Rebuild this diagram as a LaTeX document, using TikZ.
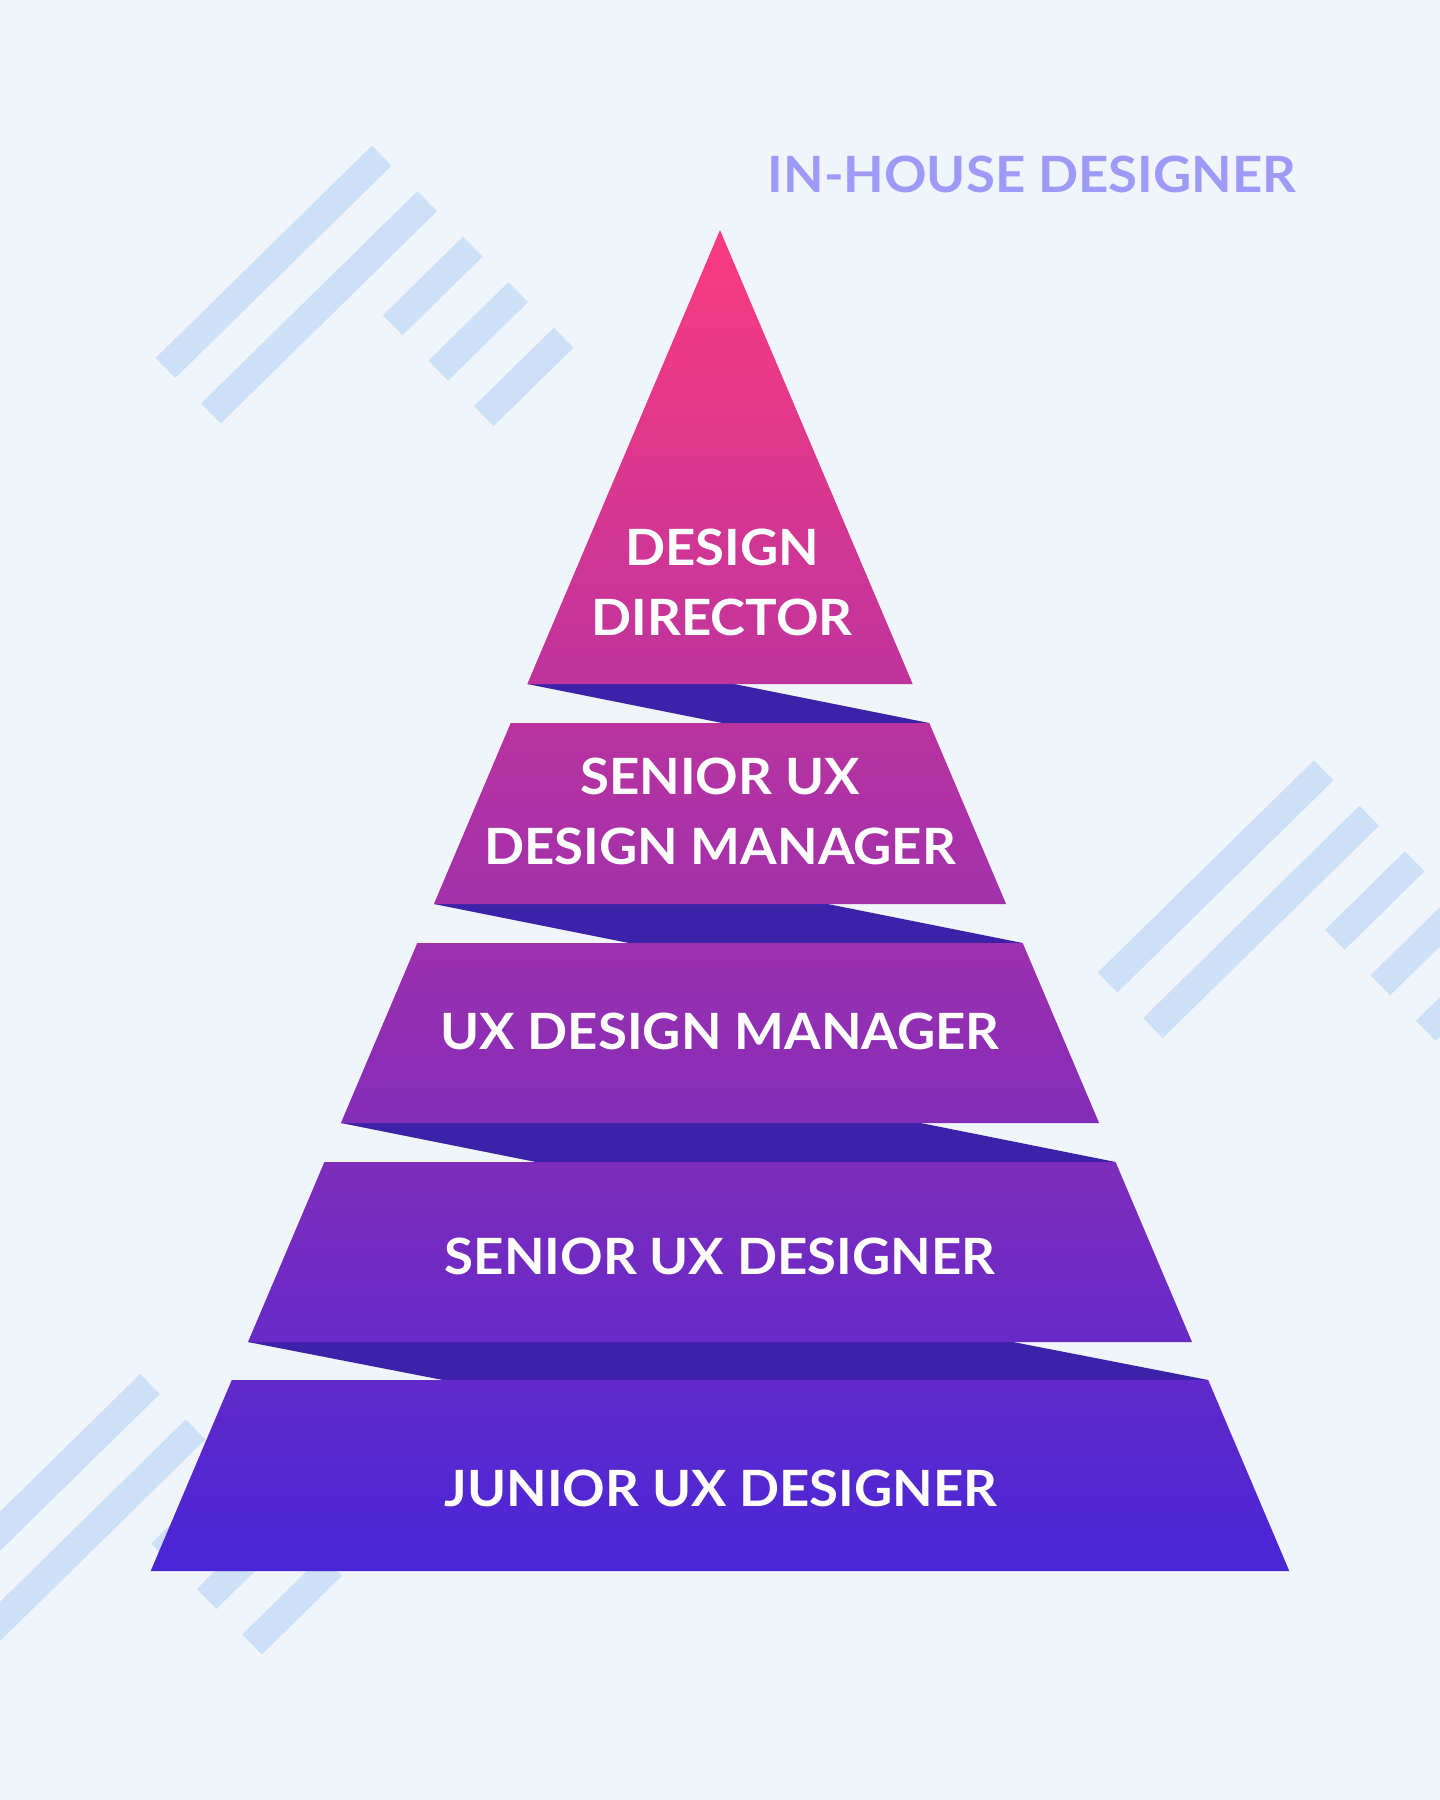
\documentclass[tikz,border=0pt]{standalone}
\usepackage{fontspec}
\setmainfont{Lato}
\newfontfamily\tierfont{Lato}[FakeStretch=1.055]
\definecolor{bgpaper}{HTML}{F0F5FC}
\definecolor{stripeblue}{HTML}{CCE0F8}
\definecolor{ribbonblue}{HTML}{3C22A8}
\definecolor{pyrpink}{HTML}{FB3B7F}
\definecolor{pyrindigo}{HTML}{4826D6}
\definecolor{titlelilac}{HTML}{9E9AF8}
\newcommand{\pyrslope}{0.4245}

\begin{document}
\begin{tikzpicture}[x=1pt,y=-1pt,
  tier/.style={text=white,font=\tierfont\fontsize{50}{70}\selectfont\bfseries,align=center,inner sep=0pt}
]

\tikzstyle{stripe}=[draw=stripeblue,line width=28pt]
\tikzstyle{ribbon}=[fill=ribbonblue]

\useasboundingbox (0,0) rectangle (1440,1800);
\fill[bgpaper] (0,0) rectangle (1440,1800);
\clip (0,0) rectangle (1440,1800);

% stripes in the background
\foreach \gx/\gy in {381.7/155.7,1323.7/770.3,150/1384}
  \foreach \i/\len in {0/303,1/303,2/112,3/112,4/112}
    \draw[stripe] (\gx+45.5*\i,\gy+45.5*\i) -- ++(-0.7136*\len,0.7004*\len);

% dark ribbons between the tiers
\foreach \yb/\yt in {684/723,904/943,1123/1162,1342/1380}
  \fill[ribbon] ({720-\pyrslope*(\yb-230)},\yb) -- ({720+\pyrslope*(\yt-230)-195},\yb)
    -- ({720+\pyrslope*(\yt-230)},\yt) -- ({720-\pyrslope*(\yb-230)+195},\yt) -- cycle;

% tiers
\begin{scope}
  \clip (720,230) -- (912.7,684) -- (527.3,684) -- cycle
    (510.7,723) -- (929.3,723) -- (1006.1,904) -- (433.9,904) -- cycle
    (417.3,943) -- (1022.7,943) -- (1099.1,1123) -- (340.9,1123) -- cycle
    (324.4,1162) -- (1115.6,1162) -- (1192.0,1342) -- (248.0,1342) -- cycle
    (231.8,1380) -- (1208.2,1380) -- (1289.3,1571) -- (150.7,1571) -- cycle;
  \shade[top color=pyrpink,bottom color=pyrindigo] (140,230) rectangle (1300,1571);
\end{scope}

\node[tier] (director) at (722,582) {DESIGN\\DIRECTOR};
\node[tier] (seniormanager) at (720,811) {SENIOR UX\\DESIGN MANAGER};
\node[tier,anchor=base] (manager) at (720,1049) {UX DESIGN MANAGER};
\node[tier,anchor=base] (senior) at (720,1274) {SENIOR UX DESIGNER};
\node[tier,anchor=base] (junior) at (721,1506) {JUNIOR UX DESIGNER};

\node[text=titlelilac,font=\tierfont\fontsize{50}{60}\selectfont\bfseries,inner sep=0pt,anchor=base] (title) at (1032,192) {IN-HOUSE DESIGNER};
\end{tikzpicture}
\end{document}
